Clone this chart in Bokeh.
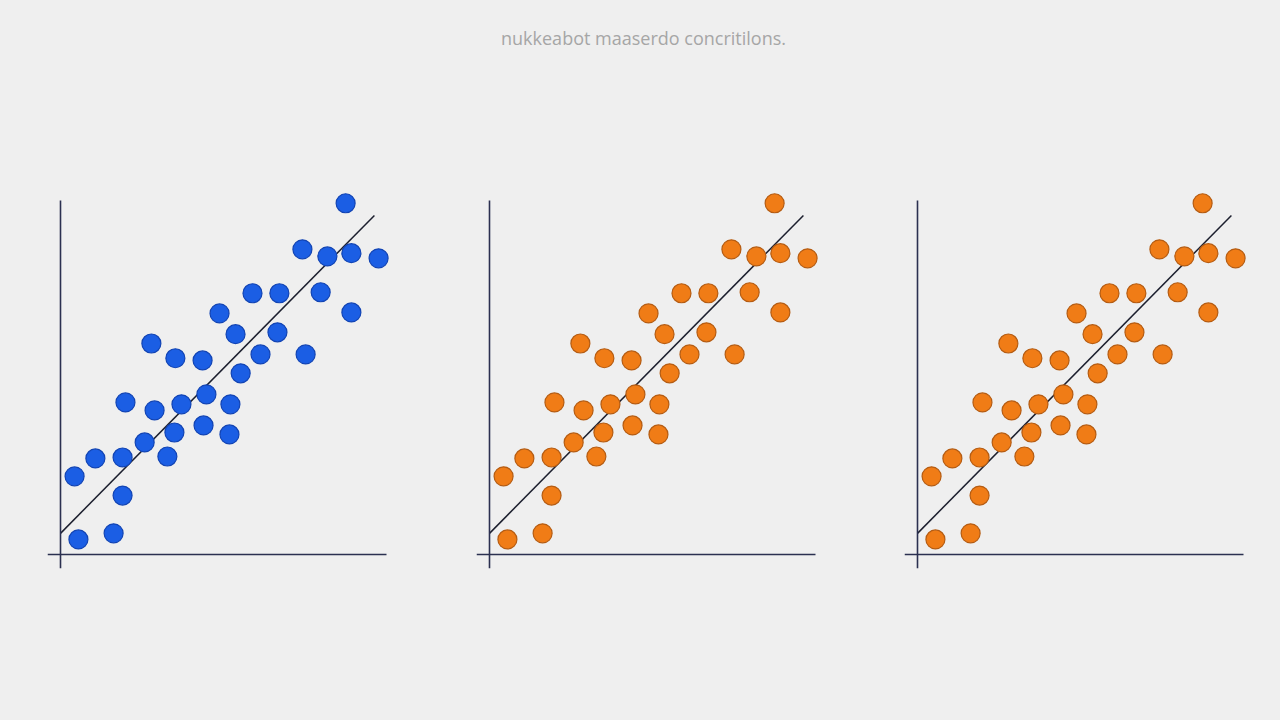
from bokeh.plotting import figure
from bokeh.layouts import column, row
from bokeh.embed import file_html
from bokeh.resources import INLINE

# ---- data ----
title_text = "nukkeabot maaserdo concritilons."
x_vals = [8.91, 7.56, 8.34, 9.09, 9.94, 6.00, 6.84, 8.13, 9.09, 4.97,
          5.47, 6.78, 2.84, 3.59, 4.44, 6.25, 7.66, 5.63, 2.03, 2.94,
          3.78, 4.56, 5.31, 3.56, 4.47, 5.28, 2.63, 3.34, 1.09, 1.94,
          0.44, 1.94, 0.56, 1.66]
y_vals = [10.97, 9.53, 9.31, 9.41, 9.25, 8.16, 8.16, 8.19, 7.56, 7.53,
          6.88, 6.94, 6.59, 6.13, 6.06, 6.25, 6.25, 5.66, 4.75, 4.50,
          4.69, 5.00, 4.69, 3.81, 4.03, 3.75, 3.50, 3.06, 3.00, 3.03,
          2.44, 1.84, 0.47, 0.66]
trend_x = [0.0, 9.81]
trend_y = [0.66, 10.59]
panel_fill = ["#1b5ee4", "#f07c16", "#f07c16"]
panel_edge = ["#1244b4", "#b55c12", "#b55c12"]
x_axis_extent = (-0.406, 10.19)
y_axis_extent = (-0.4375, 11.06)

BG = "#efefef"
AXIS = "#2b3050"

title_fig = figure(width=1280, height=78, toolbar_location=None,
                   output_backend="svg", title=title_text,
                   min_border_left=6, min_border_right=0,
                   min_border_top=54, min_border_bottom=0)
title_fig.axis.visible = False
title_fig.grid.visible = False
title_fig.outline_line_color = None
title_fig.background_fill_color = BG
title_fig.border_fill_color = BG
title_fig.title.align = "center"
title_fig.title.text_font = "Open Sans"
title_fig.title.text_font_size = "18px"
title_fig.title.text_font_style = "normal"
title_fig.title.text_color = "#a6a6a6"
title_fig.scatter([0], [0], alpha=0)

widths = [437, 429, 414]
left_borders = [47, 39, 38]
right_borders = [41, 41, 27]
panels = []
for i in range(3):
    p = figure(width=widths[i], height=630, toolbar_location=None,
               output_backend="svg",
               x_range=(-0.406, 10.5), y_range=(-0.4375, 11.4),
               min_border_left=left_borders[i], min_border_right=right_borders[i],
               min_border_top=111, min_border_bottom=140)
    p.background_fill_color = BG
    p.border_fill_color = BG
    p.outline_line_color = None
    p.grid.visible = False
    p.xaxis[0].bounds = x_axis_extent
    p.yaxis[0].bounds = y_axis_extent
    for ax in (p.xaxis[0], p.yaxis[0]):
        ax.fixed_location = 0
        ax.axis_line_color = AXIS
        ax.axis_line_width = 1.6
        ax.major_tick_line_color = None
        ax.minor_tick_line_color = None
        ax.major_label_text_font_size = "0px"
        ax.major_label_text_color = None
    p.line(trend_x, trend_y, line_color="#1c1f2e", line_width=1.5)
    p.scatter(x_vals, y_vals, size=19, fill_color=panel_fill[i],
              line_color=panel_edge[i], line_width=1.2)
    panels.append(p)

layout = column(title_fig, row(*panels, spacing=0), spacing=0)
layout.styles = {"background-color": BG}

html = file_html(layout, INLINE)
html = html.replace("</head>",
                    "<style>html, body { background-color: %s; }</style></head>" % BG, 1)
open("out.html", "w").write(html)
